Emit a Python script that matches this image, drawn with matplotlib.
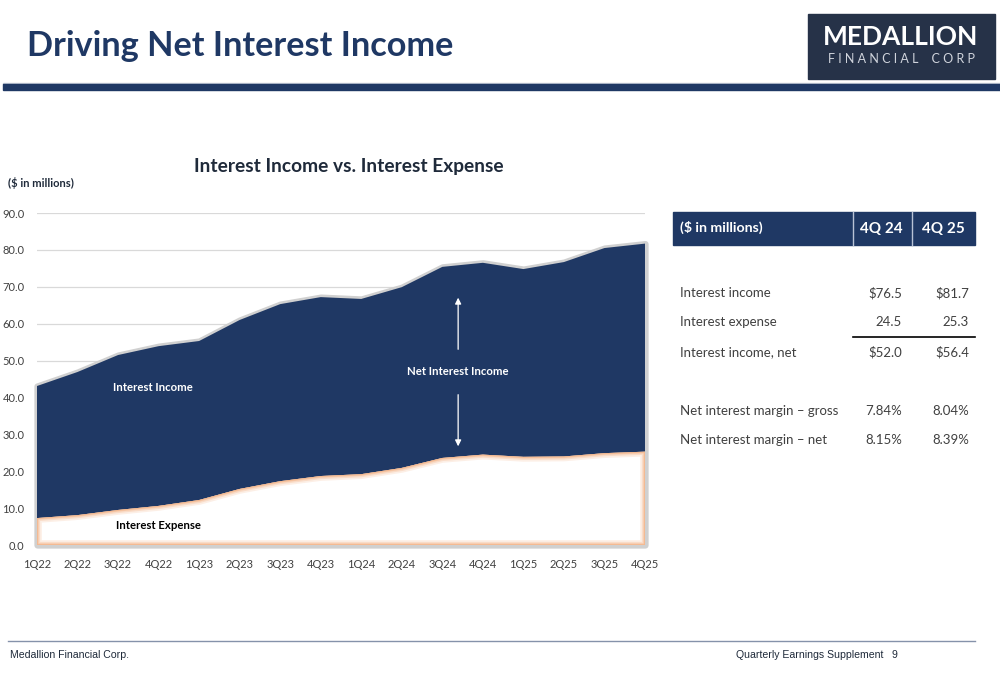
import matplotlib; matplotlib.use("Agg")
import matplotlib.pyplot as plt
from matplotlib import font_manager
import numpy as np

NAVY = "#1F3864"; LOGO = "#263248"; TXT = "#404040"; GRAYLINE = "#d9d9d9"
ORANGE = "#F4B183"

names = {f.name for f in font_manager.fontManager.ttflist}
MAIN = "Lato" if "Lato" in names else "DejaVu Sans"
NARROW = "Liberation Sans Narrow" if "Liberation Sans Narrow" in names else "Liberation Sans"
FOOT = 8.5 if NARROW == "Liberation Sans Narrow" else 7.6

# data ($ millions)
quarters = ["1Q22", "2Q22", "3Q22", "4Q22", "1Q23", "2Q23", "3Q23", "4Q23",
            "1Q24", "2Q24", "3Q24", "4Q24", "1Q25", "2Q25", "3Q25", "4Q25"]
interest_income = [43.1, 46.9, 51.5, 53.9, 55.3, 61.0, 65.3, 67.2,
                   66.7, 69.9, 75.4, 76.5, 74.8, 76.7, 80.5, 81.7]
interest_expense = [7.3, 8.1, 9.5, 10.6, 12.2, 15.2, 17.3, 18.7,
                    19.2, 20.9, 23.6, 24.5, 23.9, 24.0, 24.9, 25.3]
yticks = [0, 10, 20, 30, 40, 50, 60, 70, 80, 90]

# table
tbl_cols = ["4Q 24", "4Q 25"]
tbl_rows = ["Interest income", "Interest expense", "Interest income, net",
            "Net interest margin \u2013 gross", "Net interest margin \u2013 net"]
tbl_4q24 = ["$76.5", "24.5", "$52.0", "7.84%", "8.15%"]
tbl_4q25 = ["$81.7", "25.3", "$56.4", "8.04%", "8.39%"]

fig = plt.figure(figsize=(10, 6.85), dpi=100)
fig.patch.set_facecolor("white")

# overlay in pixel coords for slide furniture
ov = fig.add_axes([0, 0, 1, 1]); ov.axis("off")
ov.set_xlim(0, 1000); ov.set_ylim(685, 0)

ov.text(27, 46, "Driving Net Interest Income", fontsize=24.7, fontweight="bold",
        color=NAVY, family=MAIN, va="center", ha="left")
ov.add_patch(plt.Rectangle((808, 14), 187, 65, color=LOGO))
ov.text(901, 37, "MEDALLION", fontsize=19, fontweight="bold", color="white",
        family=MAIN, ha="center", va="center")
ov.text(901, 59, "F I N A N C I A L    C O R P", fontsize=9, color="#d0d4dc",
        family=MAIN, ha="center", va="center")
ov.add_patch(plt.Rectangle((3, 82.5), 997, 1.5, color="#c9cfdb"))
ov.add_patch(plt.Rectangle((3, 84), 997, 5.5, color=NAVY))

ov.text(349, 166, "Interest Income vs. Interest Expense", fontsize=13.8, fontweight="bold",
        color="#1F2A3A", family=MAIN, ha="center", va="center")
ov.text(8, 183, "($ in millions)", fontsize=8, fontweight="bold", color="#1F2A3A",
        family=MAIN, ha="left", va="center")

# table
ov.add_patch(plt.Rectangle((673, 212), 302, 33, color=NAVY))
ov.plot([853, 853], [212, 245], color="#b8c2d6", lw=1)
ov.plot([912, 912], [212, 245], color="#b8c2d6", lw=1)
ov.text(680, 227, "($ in millions)", fontsize=10.2, fontweight="bold", color="white",
        family=MAIN, ha="left", va="center")
for cx, lab in zip([881, 943], tbl_cols):
    ov.text(cx, 229, lab, fontsize=11, fontweight="bold", color="white",
            family=MAIN, ha="center", va="center")
row_y = [293, 322, 352, 411, 440]
for yy, lab, a, b in zip(row_y, tbl_rows, tbl_4q24, tbl_4q25):
    ov.text(680, yy, lab, fontsize=9.5, color=TXT, family=MAIN, ha="left", va="center")
    ov.text(902, yy, a, fontsize=9.5, color=TXT, family=MAIN, ha="right", va="center")
    ov.text(969, yy, b, fontsize=9.5, color=TXT, family=MAIN, ha="right", va="center")
ov.plot([853, 975], [337, 337], color="black", lw=1.2)

# footer
ov.plot([8, 975], [641, 641], color="#8592aa", lw=1)
ov.text(10, 655, "Medallion Financial Corp.", fontsize=FOOT, color="#1F2A3A",
        family=NARROW, ha="left", va="center")
ov.text(898, 655, "Quarterly Earnings Supplement   9", fontsize=FOOT, color="#1F2A3A",
        family=NARROW, ha="right", va="center")

# chart
ax = fig.add_axes([0.037, 1 - 545 / 685, 0.608, 332 / 685])
ax.patch.set_alpha(0)
x = np.arange(len(quarters))
ax.fill_between(x, 0, interest_income, facecolor="#cfcfcf", edgecolor="#d0d0d0",
                lw=4.5, zorder=2, clip_on=False)
ax.fill_between(x, 0, interest_income, facecolor=NAVY, lw=0, zorder=3, clip_on=False)
exp_poly = ax.fill_between(x, 0, interest_expense, facecolor="white", lw=0,
                           zorder=4, clip_on=False)
# soft inner glow along the expense area edge
for w, a in [(7, 0.2), (4.5, 0.3), (2.5, 0.45), (1.2, 0.7)]:
    g = ax.fill_between(x, 0, interest_expense, facecolor="none", edgecolor=ORANGE,
                        lw=w, alpha=a, zorder=5)
    g.set_clip_path(exp_poly.get_paths()[0], ax.transData)

ax.set_xlim(0, len(quarters) - 1)
ax.set_ylim(0, 90)
ax.set_yticks(yticks)
ax.set_yticklabels([f"{v:.1f}" for v in yticks])
ax.set_xticks(x)
ax.set_xticklabels(quarters)
ax.grid(axis="y", color=GRAYLINE, lw=0.9, zorder=1)
ax.set_axisbelow(True)
for s in ax.spines.values():
    s.set_visible(False)
ax.tick_params(length=0, labelsize=8, labelcolor=TXT)
ax.tick_params(axis="y", pad=9)
ax.tick_params(axis="x", pad=10)
for lab in ax.get_xticklabels() + ax.get_yticklabels():
    lab.set_family(MAIN)

ax.text(2.86, 42.6, "Interest Income", fontsize=8.2, fontweight="bold", color="white",
        family=MAIN, ha="center", va="center", zorder=6)
ax.text(10.39, 46.9, "Net Interest Income", fontsize=8.2, fontweight="bold", color="white",
        family=MAIN, ha="center", va="center", zorder=6)
ax.text(2.99, 5.2, "Interest Expense", fontsize=8.2, fontweight="bold", color="black",
        family=MAIN, ha="center", va="center", zorder=6)
ax.annotate("", xy=(10.39, 67.8), xytext=(10.39, 52.3), zorder=6,
            arrowprops=dict(arrowstyle="-|>", color="white", lw=0.9, mutation_scale=9))
ax.annotate("", xy=(10.39, 26.0), xytext=(10.39, 41.5), zorder=6,
            arrowprops=dict(arrowstyle="-|>", color="white", lw=0.9, mutation_scale=9))

fig.savefig("out.png", dpi=100, facecolor="white")
